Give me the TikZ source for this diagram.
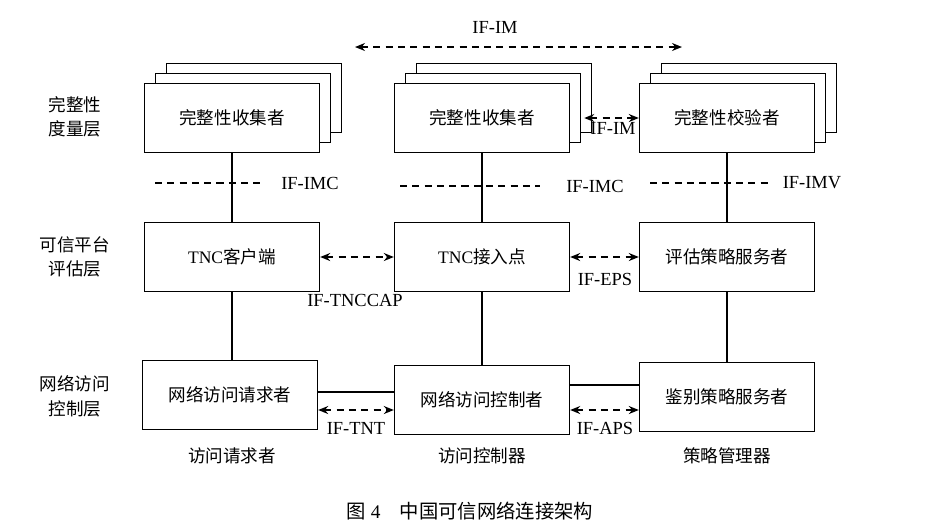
\documentclass[tikz,border=0pt]{standalone}
\usepackage{fontspec}
\setmainfont{Liberation Serif}
\newfontfamily\cjk{Noto Sans CJK SC}
\usetikzlibrary{arrows.meta}
\tikzstyle{unitbox}=[draw=black, line width=0.8pt, shape=rectangle, fill=white, minimum width=3.5cm, minimum height=1.38cm, inner sep=2pt, font=\fontsize{10}{12}\selectfont]
\tikzstyle{ifarrow}=[{Stealth[length=0.2cm, width=0.16cm]}-{Stealth[length=0.2cm, width=0.16cm]}, line width=0.9pt, dash pattern=on 4pt off 3pt]
\tikzstyle{iflabel}=[inner sep=1pt, font=\fontsize{10.5}{12}\selectfont]
\tikzstyle{layerlabel}=[inner sep=1pt, align=center, font=\cjk\fontsize{10}{14}\selectfont]

\begin{document}
\begin{tikzpicture}[x=0.02cm, y=-0.02cm]
\useasboundingbox (0,0) rectangle (927,529);

% stacked back layers
\foreach \cx in {232, 482, 727} {
  \node [unitbox] at (\cx+22,98) {};
  \node [unitbox] at (\cx+11,108) {};
}
\node [unitbox] (col1) at (232,118) {\cjk 完整性收集者};
\node [unitbox] (col2) at (482,118) {\cjk 完整性收集者};
\node [unitbox] (ver) at (727,118) {\cjk 完整性校验者};
\node [unitbox] (tncc) at (232,257) {TNC{\cjk 客户端}};
\node [unitbox] (tncs) at (482,257) {TNC{\cjk 接入点}};
\node [unitbox] (eps) at (727,257) {\cjk 评估策略服务者};
\node [unitbox] (ar) at (230,395) {\cjk 网络访问请求者};
\node [unitbox] (ac) at (482,400) {\cjk 网络访问控制者};
\node [unitbox] (pm) at (727,397) {\cjk 鉴别策略服务者};

% vertical links
\draw [line width=0.8pt] (col1) -- (tncc);
\draw [line width=0.8pt] (tncc) -- (tncc |- ar.north);
\draw [line width=0.8pt] (col2) -- (tncs) -- (ac);
\draw [line width=0.8pt] (ver) -- (eps) -- (pm);
\draw [line width=0.8pt] (ar.east |- 0,392) -- (ac.west |- 0,392);
\draw [line width=0.8pt] (ac.east |- 0,385) -- (pm.west |- 0,385);

% interface lines
\coordinate (d1a) at (155,183); \coordinate (d1b) at (265,183);
\coordinate (d2a) at (400,186); \coordinate (d2b) at (540,186);
\coordinate (d3a) at (650,183); \coordinate (d3b) at (770,183);
\draw [line width=0.8pt, dash pattern=on 4pt off 3pt] (d1a) -- (d1b);
\draw [line width=0.8pt, dash pattern=on 4pt off 3pt] (d2a) -- (d2b);
\draw [line width=0.8pt, dash pattern=on 4pt off 3pt] (d3a) -- (d3b);
\node [iflabel] (imc1) at (310,183) {IF-IMC};
\node [iflabel] (imc2) at (595,186) {IF-IMC};
\node [iflabel] (imv) at (812,183) {IF-IMV};

% arrows between units
\coordinate (ima) at (355,47); \coordinate (imb) at (682,47);
\draw [ifarrow] (ima) -- (imb);
\node [iflabel] (im1) at (495,27) {IF-IM};
\draw [ifarrow] ([xshift=8pt]col2.east) -- (ver.west);
\node [iflabel] (im2) at (613,128) {IF-IM};
\draw [ifarrow] (tncc.east) -- (tncs.west);
\node [iflabel] (tnccap) at (355,300) {IF-TNCCAP};
\draw [ifarrow] (tncs.east) -- (eps.west);
\node [iflabel] (eps1) at (605,279) {IF-EPS};
\draw [ifarrow] (ar.east |- 0,410) -- (ac.west |- 0,410);
\node [iflabel] (tnt) at (356,428) {IF-TNT};
\draw [ifarrow] (ac.east |- 0,410) -- (pm.west |- 0,410);
\node [iflabel] (aps) at (605,428) {IF-APS};

% layer and role labels
\node [layerlabel] (l1) at (75,117) {完整性\\度量层};
\node [layerlabel] (l2) at (75,257) {可信平台\\评估层};
\node [layerlabel] (l3) at (75,396) {网络访问\\控制层};
\node [layerlabel] (r1) at (232,456) {访问请求者};
\node [layerlabel] (r2) at (482,456) {访问控制器};
\node [layerlabel] (r3) at (727,456) {策略管理器};
\node [inner sep=1pt, font=\fontsize{11}{13}\selectfont] (cap) at (470,511) {{\cjk 图} 4\quad{\cjk 中国可信网络连接架构}};
\end{tikzpicture}
\end{document}
